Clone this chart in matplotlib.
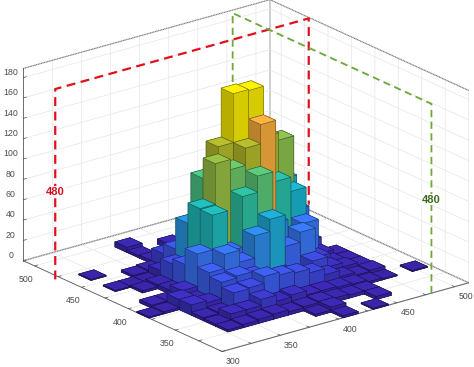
import numpy as np
import matplotlib
matplotlib.use('Agg')
import matplotlib.pyplot as plt
from matplotlib.colors import LinearSegmentedColormap

plt.rcParams['font.family'] = ['Liberation Sans', 'DejaVu Sans']

# Counts per bin, each row is one y bin (first row y=300), each column one x bin
counts = [
    [0, 0, 0, 0, 0, 0, 0, 0, 2, 0, 1, 0, 0, 0, 0, 0],
    [0, 0, 0, 0, 0, 0, 0, 2, 5, 0, 0, 3, 0, 0, 0, 0],
    [0, 0, 2, 3, 4, 5, 3, 4, 5, 4, 3, 3, 0, 0, 0, 0],
    [0, 0, 2, 8, 8, 14, 8, 10, 6, 6, 5, 4, 2, 1, 0, 1],
    [0, 0, 3, 4, 19, 20, 27, 24, 22, 18, 12, 6, 3, 4, 0, 0],
    [0, 0, 10, 8, 24, 26, 22, 15, 15, 10, 20, 10, 6, 3, 0, 0],
    [1, 2, 10, 5, 28, 42, 30, 52, 64, 33, 43, 14, 5, 3, 0, 0],
    [0, 3, 3, 9, 41, 75, 35, 85, 101, 50, 28, 42, 8, 3, 0, 0],
    [0, 0, 0, 4, 25, 76, 116, 106, 123, 142, 82, 68, 15, 0, 0, 0],
    [0, 0, 2, 4, 20, 56, 96, 123, 171, 170, 120, 113, 40, 0, 0, 0],
    [0, 1, 1, 1, 8, 25, 30, 60, 80, 90, 70, 50, 65, 0, 0, 0],
    [0, 0, 0, 2, 3, 15, 10, 0, 0, 0, 0, 0, 0, 0, 0, 0],
    [0, 1, 0, 0, 0, 3, 0, 0, 0, 0, 0, 0, 0, 0, 0, 0],
    [0, 0, 0, 0, 0, 2, 0, 5, 0, 0, 0, 0, 0, 0, 0, 0],
    [0, 0, 0, 0, 0, 5, 0, 0, 0, 0, 0, 0, 0, 0, 0, 0],
    [0, 0, 0, 0, 0, 0, 0, 0, 0, 0, 0, 0, 0, 0, 0, 0],
]
bin_start = 300
bin_width = 13
axis_max = 512
z_max = 189
highlight_bin = (9, 8)  # the orange bar
red_pos = 478
red_end = 518
red_top = 183
green_pos = 480
green_top = 186
xy_ticks = [300, 325, 350, 375, 400, 425, 450, 475, 500]
x_labels = ['300', '', '350', '', '400', '', '450', '', '500']
y_labels = ['', '', '350', '', '400', '', '450', '', '500']
z_ticks = list(range(0, 181, 20))

# Colours of the top faces, low to high
heights_cmap = LinearSegmentedColormap.from_list('heights', [
    (0.0, '#3a24a8'), (0.04, '#3d2bbc'), (0.10, '#3f46e0'), (0.16, '#3e62f6'), (0.25, '#3a7cfc'),
    (0.33, '#2a9de8'), (0.40, '#18bcd4'), (0.50, '#30c6a4'), (0.60, '#62cc78'), (0.72, '#b8bf2c'),
    (0.85, '#e4d014'), (1.0, '#fff200'),
])

fig = plt.figure(figsize=(4.74, 3.67), dpi=100)
ax = fig.add_axes([2.6 / 474, -52 / 367, 1.0, 474 / 367], projection='3d', proj_type='ortho',
                  computed_zorder=False)
ax.set_box_aspect((313, 323, 206), zoom=1.0127)
ax.view_init(elev=20.9, azim=-128)
ax.set_xlim(bin_start, axis_max)
ax.set_ylim(bin_start, axis_max)
ax.set_zlim(0, z_max)

for axis in (ax.xaxis, ax.yaxis, ax.zaxis):
    axis.pane.set_facecolor('white')
    axis.pane.set_edgecolor('0.65')
    axis.line.set_color('0.35')
    axis.line.set_linewidth(0.6)
    axis._axinfo['grid'].update(color='0.9', linewidth=0.5)
    axis._axinfo['tick'].update(inward_factor=0.0, outward_factor=0.15)
    axis._axinfo['tick']['linewidth'] = {True: 0.5, False: 0.4}
    axis.get_offset_text().set_visible(False)
    axis.label.set_visible(False)

ax.set_xticks(xy_ticks)
ax.set_xticklabels(x_labels)
ax.set_yticks(xy_ticks)
ax.set_yticklabels(y_labels)
ax.set_zticks(z_ticks)
ax.tick_params(axis='both', labelsize=6.3, colors='0.3')
ax.tick_params(axis='x', pad=-4.5)
ax.tick_params(axis='y', pad=-2)
ax.tick_params(axis='z', pad=-3)
for label in ax.get_xticklabels():
    label.set_ha('left')
for label in ax.get_zticklabels():
    label.set_va('bottom')

# Box edges of the walls, dotted as in the picture
edge_style = dict(color='0.35', lw=0.6, ls=(0, (1, 1)), zorder=1)
for z in (0, z_max):
    ax.plot([bin_start, axis_max], [axis_max, axis_max], [z, z], **edge_style)
    ax.plot([axis_max, axis_max], [bin_start, axis_max], [z, z], **edge_style)

# Red and green frames at 480
ax.plot([bin_start, bin_start, red_end, red_end], [red_pos] * 4, [-4, red_top, red_top, 0],
        color='#e0101c', lw=1.6, ls=(0, (4, 2.5)), zorder=1)
ax.plot([green_pos] * 4, [bin_start, bin_start, axis_max, axis_max], [0, green_top, green_top, 0],
        color='#6ea83a', lw=1.3, ls=(0, (4, 2.5)), zorder=1)
ax.text(bin_start, red_pos, 82, '480', color='#d01020', fontsize=8, fontweight='bold',
        rotation=90, ha='center', va='center', zorder=1,
        bbox=dict(facecolor='white', edgecolor='none', pad=0.5))
ax.text(green_pos, bin_start, 92, '480', color='#3f6b1f', fontsize=8, fontweight='bold',
        rotation=90, ha='center', va='center', zorder=1,
        bbox=dict(facecolor='white', edgecolor='none', pad=0.5))

# Bars are drawn one by one from the back so they overlap correctly
grid = np.array(counts)
n_y, n_x = grid.shape
cells = sorted(((i, j) for j in range(n_y) for i in range(n_x) if grid[j, i] > 0),
               key=lambda c: -(c[0] + c[1]))
for order, (i, j) in enumerate(cells):
    h = grid[j, i]
    top = np.array(heights_cmap(h / grid.max())[:3])
    if (i, j) == highlight_bin:
        top = np.array([1.0, 0.7, 0.25])
    left = top * 0.72
    right = top * 0.84
    # bar3d face order: bottom, top, -y, +y, -x, +x
    face_colors = [top * 0.5, top, right, right, left, left]
    ax.bar3d(bin_start + i * bin_width, bin_start + j * bin_width, 0, bin_width, bin_width, h,
             color=face_colors, shade=False, edgecolor=top * 0.45, linewidth=0.35,
             zorder=2 + order)

fig.savefig('out.png', dpi=100)
